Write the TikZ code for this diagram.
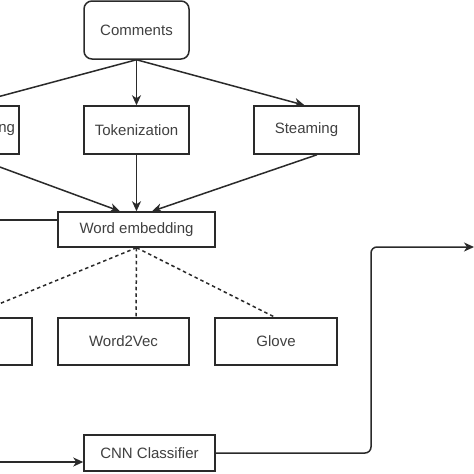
\documentclass[tikz,border=0pt]{standalone}
\usepackage{fontspec}
\setmainfont{Liberation Sans}
\usetikzlibrary{arrows.meta}
\definecolor{txt}{HTML}{404040}
\definecolor{ln}{HTML}{2A2A2A}
\begin{document}
\begin{tikzpicture}[x=1pt,y=-1pt,
  box/.style={draw=ln,line width=1.5pt,inner sep=0pt,fill=white,text=txt,
    font=\fontsize{15}{18}\selectfont,minimum width=#1},
  box/.default=105pt,
  conn/.style={draw=ln,line width=1.5pt},
  arr/.style={conn,-{Stealth[length=10pt,width=9pt,inset=3pt]}},
  dsh/.style={conn,dash pattern=on 3.5pt off 3pt}]
\useasboundingbox (0,0) rectangle (474,474);
\clip (0,0) rectangle (474,474);
\fill[white] (0,0) rectangle (474,474);
% nodes
\node[box,minimum height=58pt,rounded corners=8pt] (com) at (136.5,30) {Comments};
\node[box,minimum height=48pt,text width=97pt,align=right] (l1) at (-33.5,130) {ng};
\node[box,minimum height=48pt] (tok) at (136.5,130) {Tokenization};
\node[box,minimum height=48pt] (stm) at (306.5,130) {Steaming};
\node[box=157pt,minimum height=35pt] (we) at (136.5,229.5) {Word embedding};
\node[box=131pt,minimum height=47pt] (l2) at (-33.5,341.5) {};
\node[box=131pt,minimum height=47pt] (w2v) at (123.5,341.5) {Word2Vec};
\node[box=122pt,minimum height=47pt] (glv) at (276,341.5) {Glove};
\node[box=131pt,minimum height=36pt] (cnn) at (149.5,453) {CNN Classifier};
\coordinate (inL) at (-20,220);
\coordinate (inC) at (-20,462);
\coordinate (outR) at (474,247);
\coordinate (bend) at (371,0);
% connectors
\draw[arr] (com.south) -- (l1.north);
\draw[arr] (com.south) -- (tok.north);
\draw[arr] (com.south) -- ([xshift=-2pt]stm.north);
\draw[arr] (l1.south) -- ([xshift=-16.5pt]we.north);
\draw[arr] (tok.south) -- (we.north);
\draw[arr] ([xshift=10.5pt]stm.south) -- ([xshift=15.5pt]we.north);
\draw[conn] (inL) -- (we.west |- inL);
\draw[dsh] (we.south) -- (l2.north);
\draw[dsh] (we.south) -- ([xshift=12.5pt]w2v.north);
\draw[dsh] (we.south) -- ([xshift=-1pt]glv.north);
\draw[arr] (inC) -- (cnn.west |- inC);
\draw[arr,rounded corners=6pt] (cnn.east) -- (bend |- cnn.east) -- (bend |- outR) -- (outR);
\end{tikzpicture}
\end{document}
